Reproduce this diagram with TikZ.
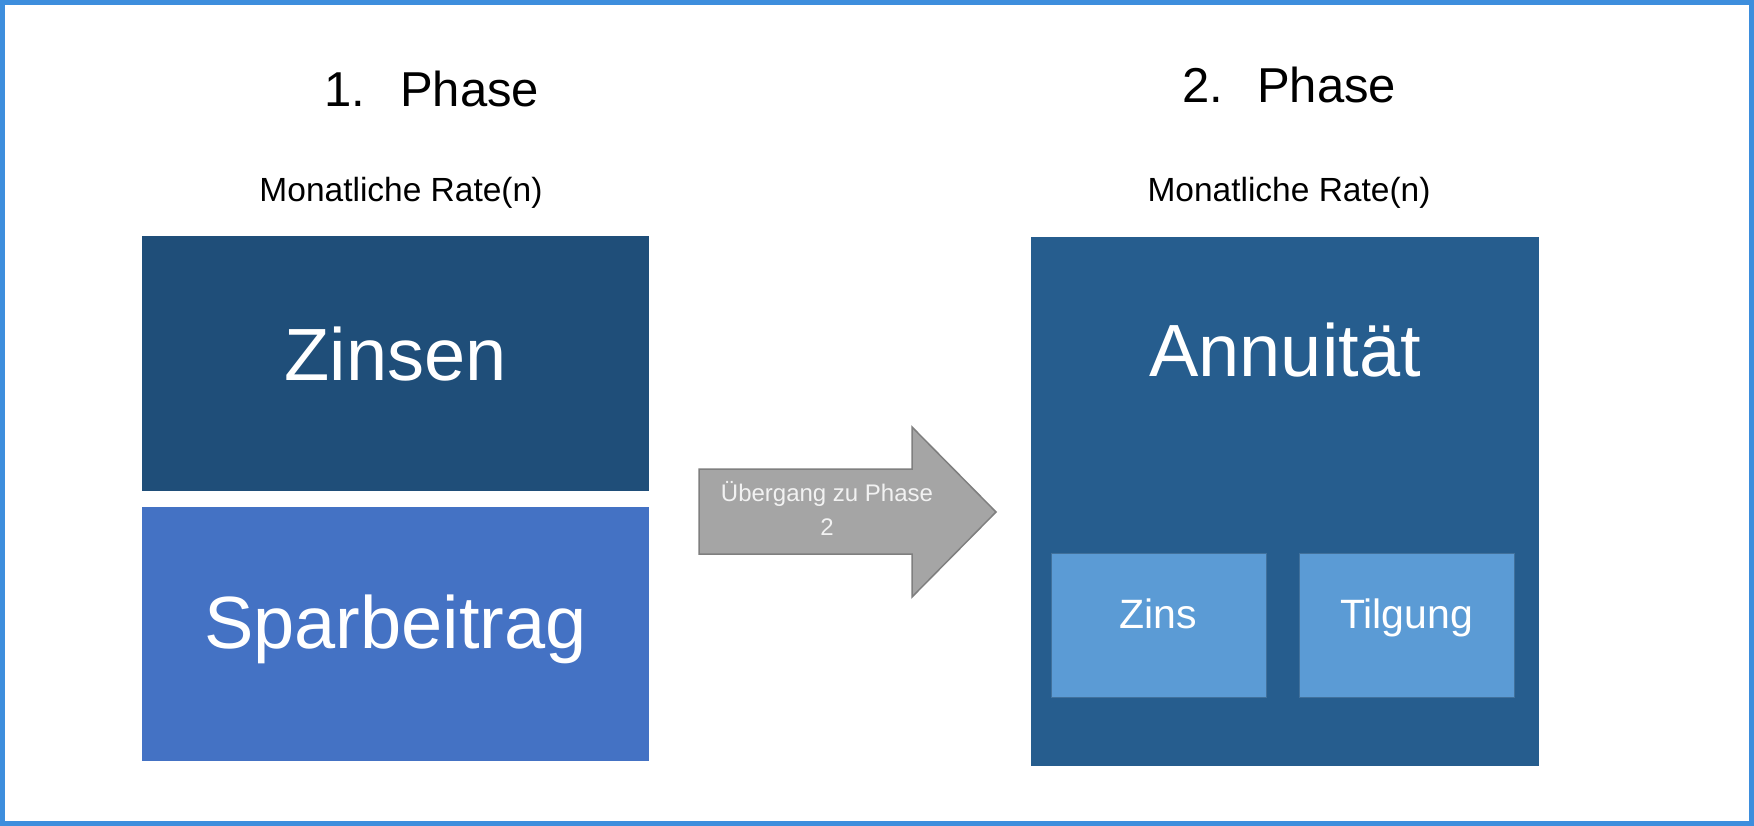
\documentclass[tikz,border=0pt]{standalone}
\usepackage{fontspec}
\setmainfont{Liberation Sans}
\definecolor{frameblue}{HTML}{3D8EDD}
\definecolor{darkblue}{HTML}{1F4E79}
\definecolor{midblue}{HTML}{4472C4}
\definecolor{annblue}{HTML}{265D8E}
\definecolor{lightblue}{HTML}{5B9BD5}
\definecolor{lightedge}{HTML}{41719C}
\definecolor{arrowfill}{HTML}{A5A5A5}
\definecolor{arrowedge}{HTML}{7F7F7F}
\definecolor{arrowtext}{HTML}{F2F2F2}
\tikzset{
  heading/.style={inner sep=0pt, anchor=base west, font=\fontsize{49}{55}\selectfont},
  sub/.style={inner sep=0pt, anchor=base, font=\fontsize{33.5}{40}\selectfont},
  bigtext/.style={inner sep=0pt, anchor=base, text=white, font=\fontsize{74}{80}\selectfont},
  smalltext/.style={inner sep=0pt, anchor=base, text=white, font=\fontsize{41}{46}\selectfont}
}
\begin{document}
\begin{tikzpicture}[x=1pt,y=-1pt]
\useasboundingbox (0,0) rectangle (1754,826);
\fill[white] (0,0) rectangle (1754,826);
\draw[frameblue, line width=5pt] (2.5,2.5) rectangle (1751.5,823.5);

% headings
\node[heading] (n1) at (324,107) {1.};
\node[heading] (p1) at (400,107) {Phase};
\node[heading] (n2) at (1182,103) {2.};
\node[heading] (p2) at (1257,103) {Phase};
\node[sub] (m1) at (401,202) {Monatliche Rate(n)};
\node[sub] (m2) at (1289,202) {Monatliche Rate(n)};

% phase 1 boxes
\fill[darkblue] (142,236) rectangle (649,491);
\node[bigtext] (zinsen) at (395.5,380) {Zinsen};
\fill[midblue] (142,507) rectangle (649,761);
\node[bigtext] (spar) at (395.5,648) {Sparbeitrag};

% arrow
\draw[arrowedge, fill=arrowfill, line width=1.5pt, line join=miter]
  (699,469) -- (912,469) -- (912,427) -- (996,512) -- (912,597) -- (912,554) -- (699,554) -- cycle;
\node[inner sep=0pt, align=center, text=arrowtext, font=\fontsize{24}{34}\selectfont, anchor=center] (arrowlabel) at (827,508) {Übergang zu Phase\\2};

% phase 2 box
\fill[annblue] (1031,237) rectangle (1539,766);
\node[bigtext] (annuitaet) at (1285,377) {Annuität};
\draw[lightedge, fill=lightblue, line width=1pt] (1051,553) rectangle (1266,697);
\draw[lightedge, fill=lightblue, line width=1pt] (1299,553) rectangle (1514,697);
\node[smalltext] (zins) at (1158.5,628) {Zins};
\node[smalltext] (tilgung) at (1406.5,628) {Tilgung};
\end{tikzpicture}
\end{document}
